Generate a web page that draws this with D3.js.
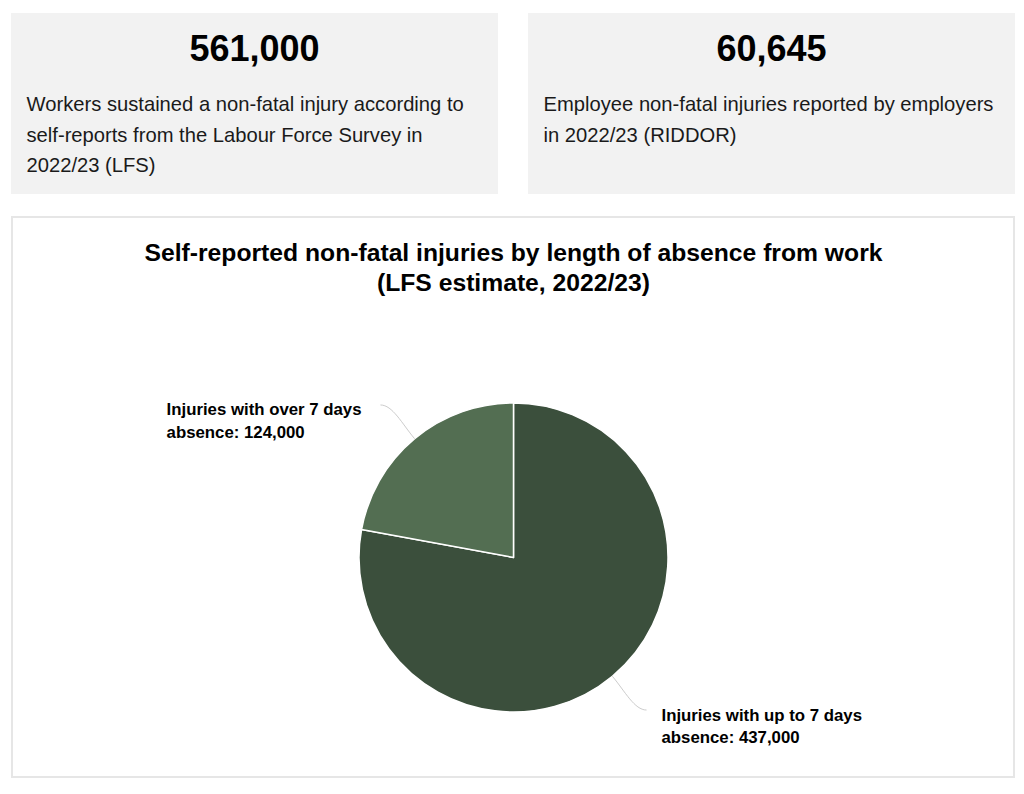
<!DOCTYPE html>
<html>
<head>
<meta charset="utf-8">
<script src="https://cdn.jsdelivr.net/npm/d3@7"></script>
<style>
  body { margin: 0; background: #fff; }
  svg { display: block; font-family: "Liberation Sans", Arial, Helvetica, sans-serif; }
</style>
</head>
<body>
<div id="chart"></div>
<script>
// headline figures shown in the two grey cards
const cardValues = [561000, 60645];
const cardLines = [
  ['Workers sustained a non-fatal injury according to',
   'self-reports from the Labour Force Survey in',
   '2022/23 (LFS)'],
  ['Employee non-fatal injuries reported by employers',
   'in 2022/23 (RIDDOR)']
];

// pie data
const categories = ['Injuries with up to 7 days absence', 'Injuries with over 7 days absence'];
const values = [437000, 124000];
const labelLines = [
  ['Injuries with up to 7 days', 'absence: 437,000'],
  ['Injuries with over 7 days', 'absence: 124,000']
];
const titleLines = ['Self-reported non-fatal injuries by length of absence from work',
                    '(LFS estimate, 2022/23)'];

const W = 1024, H = 794;
const fmt = d3.format(',');

const svg = d3.select('#chart').append('svg')
  .attr('width', W)
  .attr('height', H);

// ---- cards ----
const cards = [
  { x: 11, y: 13, w: 487, h: 181 },
  { x: 528, y: 13, w: 487, h: 181 }
];

cards.forEach((c, i) => {
  const g = svg.append('g').attr('transform', `translate(${c.x},${c.y})`);
  g.append('rect')
    .attr('width', c.w)
    .attr('height', c.h)
    .attr('fill', '#f2f2f2');
  g.append('text')
    .attr('x', c.w / 2)
    .attr('y', 48)
    .attr('text-anchor', 'middle')
    .attr('font-size', 36)
    .attr('font-weight', 'bold')
    .attr('fill', '#000')
    .text(fmt(cardValues[i]));
  const t = g.append('text')
    .attr('font-size', 20.2)
    .attr('fill', '#1a1a1a');
  t.selectAll('tspan')
    .data(cardLines[i])
    .join('tspan')
      .attr('x', 15.5)
      .attr('y', (d, j) => 98 + j * 30.7)
      .text(d => d);
});

// ---- chart box ----
svg.append('rect')
  .attr('x', 12)
  .attr('y', 217)
  .attr('width', 1002)
  .attr('height', 560)
  .attr('fill', '#fff')
  .attr('stroke', '#e6e6e6')
  .attr('stroke-width', 2);

svg.append('text')
  .attr('text-anchor', 'middle')
  .attr('font-size', 24.7)
  .attr('font-weight', 'bold')
  .attr('fill', '#000')
  .selectAll('tspan')
  .data(titleLines)
  .join('tspan')
    .attr('x', 513.5)
    .attr('y', (d, i) => 261 + i * 30)
    .text(d => d);

// ---- pie ----
const center = { x: 513.5, y: 557.5 };
const radius = 154.5;
const colors = ['#3b4f3c', '#536e52'];

const pie = d3.pie().sort(null).value(d => d);
const arcPath = d3.arc().innerRadius(0).outerRadius(radius);

const graph = svg.append('g')
  .attr('transform', `translate(${center.x},${center.y})`);

const arcs = pie(values);

graph.selectAll('path.slice')
  .data(arcs)
  .join('path')
    .attr('class', 'slice')
    .attr('d', arcPath)
    .attr('fill', (d, i) => colors[i])
    .attr('stroke', '#fff')
    .attr('stroke-width', 1.5)
    .attr('stroke-linejoin', 'round');

// connectors + labels
arcs.forEach((d, i) => {
  const mid = (d.startAngle + d.endAngle) / 2;
  const sx = Math.sin(mid), sy = -Math.cos(mid);
  const right = sx > 0;
  const dir = right ? 1 : -1;
  const p0 = [sx * radius, sy * radius];
  const end = [sx * (radius + 44) + dir * 6, sy * (radius + 44)];
  const c1 = [sx * (radius + 20), sy * (radius + 20)];
  const c2 = [end[0] - dir * 12, end[1]];

  const p = d3.path();
  p.moveTo(p0[0], p0[1]);
  p.bezierCurveTo(c1[0], c1[1], c2[0], c2[1], end[0], end[1]);
  graph.append('path')
    .attr('d', p.toString())
    .attr('fill', 'none')
    .attr('stroke', '#cccccc')
    .attr('stroke-width', 1);

  const lbl = graph.append('text')
    .attr('font-size', 16.8)
    .attr('font-weight', 'bold')
    .attr('fill', '#000');
  lbl.selectAll('tspan')
    .data(labelLines[i])
    .join('tspan')
      .attr('x', 0)
      .attr('y', (t, j) => end[1] + 10.5 + j * 22.5)
      .text(t => t);
  // left-aligned block: right side starts after the line, left side ends before it
  const bw = lbl.node().getBBox().width;
  const lx = right ? end[0] + 15 : end[0] - 19 - bw;
  lbl.selectAll('tspan').attr('x', lx);
});
</script>
</body>
</html>
